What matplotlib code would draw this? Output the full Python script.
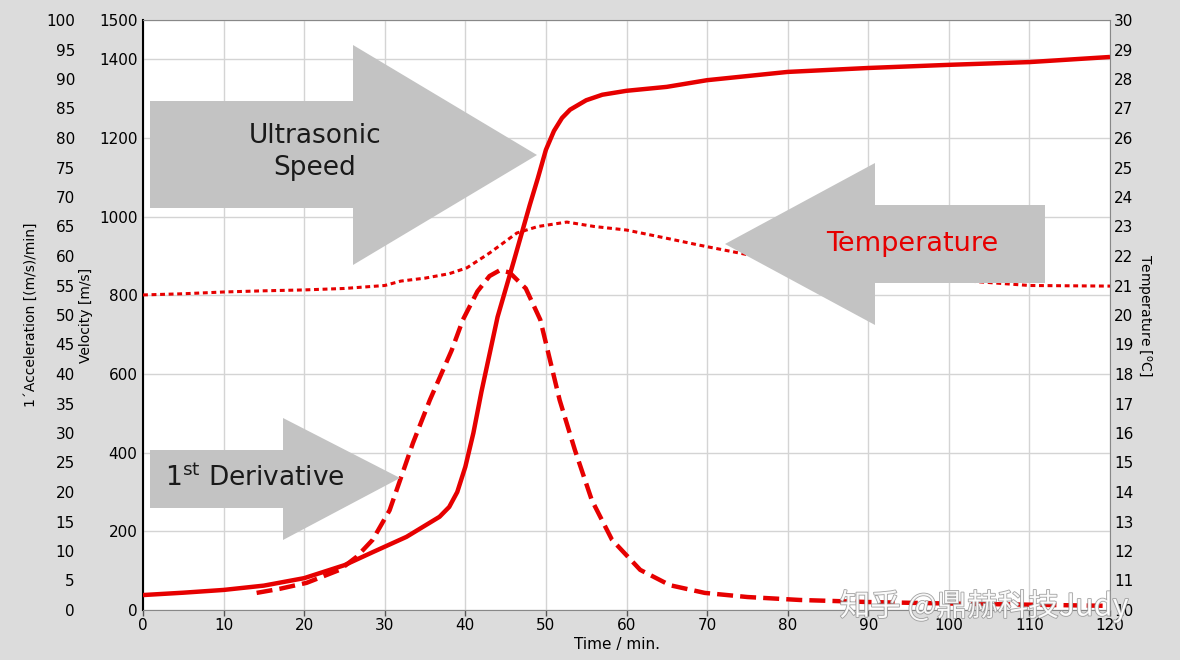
import matplotlib
matplotlib.use("Agg")
import matplotlib.pyplot as plt
from matplotlib.patches import Polygon
import matplotlib.patheffects as pe

# data
vel_t = [0, 5, 10, 15, 20, 25, 28.5, 32.7, 36.8, 38, 39, 40, 41, 42, 43, 44, 46, 48, 49, 50, 51,
         52, 53, 55, 57, 60, 65, 70, 80, 90, 100, 110, 120]
vel_v = [38, 44, 51, 62, 81, 114, 147, 186, 237, 262, 300, 364, 450, 555, 650, 745, 886, 1030,
         1098, 1170, 1218, 1251, 1272, 1296, 1310, 1320, 1330, 1347, 1368, 1378, 1386, 1393, 1406]

acc_t = [14.1, 17, 20.3, 24.4, 26.5, 28.5, 30.6, 31.9, 33.5, 35.6, 38.3, 39.7, 41.5, 43, 44.3,
         45.5, 47.5, 49.3, 51.7, 53.6, 55.7, 58.2, 61.7, 65.4, 69.7, 75, 81.5, 90, 100, 110, 120]
acc_a = [2.9, 3.6, 4.6, 6.8, 9.0, 11.9, 16.9, 22.0, 28.3, 35.6, 44.0, 49.2, 54.0, 56.6, 57.6,
         57.2, 54.5, 49.2, 35.6, 27.1, 18.6, 11.9, 6.8, 4.2, 2.9, 2.2, 1.7, 1.35, 1.1, 0.9, 0.7]

temp_t = [0, 5, 10, 15, 20, 25, 30, 32, 35, 38, 40.2, 43, 46.4, 49, 52.6, 56, 60, 65, 69, 75.3,
          80, 90, 100, 110, 120]
temp_c = [20.68, 20.72, 20.78, 20.82, 20.85, 20.9, 21.0, 21.15, 21.25, 21.4, 21.6, 22.1, 22.78,
          23.0, 23.15, 23.0, 22.88, 22.6, 22.37, 22.03, 21.85, 21.5, 21.2, 21.0, 20.98]

time_ticks = list(range(0, 121, 10))
vel_ticks = [0, 200, 400, 600, 800, 1000, 1200, 1400, 1500]
acc_ticks = list(range(0, 101, 5))
temp_ticks = list(range(10, 31))

RED = "#e60000"
BG = "#dcdcdc"
ARROW = "#c3c3c3"
W, H = 1180, 660


def fx(x):
    return x / W


def fy(y):
    return 1 - y / H


fig = plt.figure(figsize=(11.8, 6.6), dpi=100, facecolor=BG)
ax = fig.add_axes([fx(143), fy(610), (1110 - 143) / W, (610 - 20) / H])
ax.set_facecolor("white")
ax.set_xlim(0, 120)
ax.set_ylim(0, 1500)
ax.set_xticks(time_ticks)
ax.set_yticks(vel_ticks)
ax.grid(True, color="#d4d4d4", lw=1)
ax.tick_params(axis="x", length=4, width=1, color="#555", labelsize=11, pad=2)
ax.tick_params(axis="y", length=0, labelsize=11, pad=4)
for s in ["top", "right", "bottom"]:
    ax.spines[s].set_color("#888")
ax.spines["left"].set_color("black")
ax.spines["left"].set_linewidth(1.5)
ax.set_xlabel("Time / min.", fontsize=11)
ax.xaxis.set_label_coords(0.49, -0.045)
ax.set_ylabel("Velocity [m/s]", fontsize=10, labelpad=4)
ax.plot(vel_t, vel_v, color=RED, lw=3.2, solid_capstyle="butt", zorder=3)

acc = ax.twinx()
acc.set_ylim(0, 100)
acc.set_yticks(acc_ticks)
acc.yaxis.set_ticks_position("left")
acc.yaxis.set_label_position("left")
acc.spines["left"].set_position(("outward", 49))
for s in acc.spines.values():
    s.set_visible(False)
acc.tick_params(axis="y", length=0, labelsize=11, pad=0)
acc.set_ylabel("1\u00b4Acceleration [(m/s)/min]", fontsize=10, labelpad=6)
acc.plot(acc_t, acc_a, color=RED, lw=3.2, dashes=(3.6, 1.6), zorder=3)

tmp = ax.twinx()
tmp.set_ylim(10, 30)
tmp.set_yticks(temp_ticks)
for s in tmp.spines.values():
    s.set_visible(False)
tmp.tick_params(axis="y", length=0, labelsize=11, pad=3)
tmp.set_ylabel("Temperature [$^{\\mathrm{o}}$C]", fontsize=10, rotation=-90, labelpad=14)
tmp.plot(temp_t, temp_c, color=RED, lw=2.2, dashes=(1.6, 1.2), zorder=3)

# annotation arrows (pixel outlines)
arrows = [
    [(150, 101), (353, 101), (353, 45), (537, 155), (353, 265), (353, 208), (150, 208)],
    [(1045, 205), (875, 205), (875, 163), (725, 244), (875, 325), (875, 283), (1045, 283)],
    [(150, 450), (283, 450), (283, 418), (400, 478), (283, 540), (283, 508), (150, 508)],
]
for pts in arrows:
    fig.add_artist(Polygon([(fx(x), fy(y)) for x, y in pts], closed=True,
                           transform=fig.transFigure, facecolor=ARROW, edgecolor="none",
                           zorder=5))

fig.text(fx(315), fy(152), "Ultrasonic\nSpeed", ha="center", va="center", fontsize=19,
         color="#1a1a1a", linespacing=1.3, zorder=6)
fig.text(fx(912), fy(244), "Temperature", ha="center", va="center", fontsize=19.5,
         color=RED, zorder=6)
fig.text(fx(165), fy(478), "1$^{\\mathrm{st}}$ Derivative", ha="left", va="center",
         fontsize=19, color="#1a1a1a", zorder=6)

# watermark
wm = fig.text(fx(984), fy(606), "知乎 @鼎赫科技Judy", ha="center", va="center", fontsize=22,
              color="white", alpha=0.9, family=["Noto Sans CJK SC", "DejaVu Sans"], zorder=7)
wm.set_path_effects([pe.withStroke(linewidth=1.2, foreground="#999999")])

fig.savefig("out.png", dpi=100, facecolor=BG)
